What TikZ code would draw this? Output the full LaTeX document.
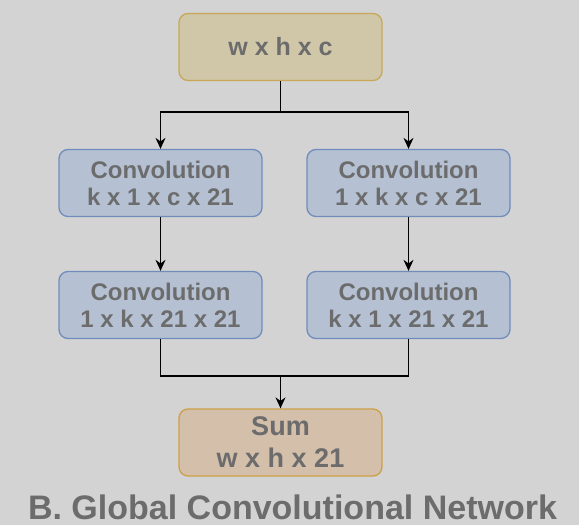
\documentclass[tikz,border=0pt]{standalone}
\usepackage{fontspec}
\setmainfont{Liberation Sans}
\usetikzlibrary{arrows.meta}
\definecolor{bg}{RGB}{211,211,211}
\definecolor{tan}{RGB}{208,198,168}
\definecolor{tanb}{RGB}{200,168,88}
\definecolor{blu}{RGB}{181,193,211}
\definecolor{blub}{RGB}{112,140,188}
\definecolor{sumf}{RGB}{211,191,170}
\definecolor{sumb}{RGB}{205,160,70}
\definecolor{txt}{RGB}{108,108,108}
\tikzset{
  box/.style={rounded corners=9pt, line width=1.3pt, minimum width=203pt, minimum height=67pt,
    align=center, text=txt, font=\fontsize{24}{27}\selectfont\bfseries, inner sep=0pt},
  inbox/.style={box, fill=tan, draw=tanb, font=\fontsize{25}{27}\selectfont\bfseries},
  convbox/.style={box, fill=blu, draw=blub},
  sumbox/.style={box, fill=sumf, draw=sumb, font=\fontsize{27}{32}\selectfont\bfseries},
  conn/.style={line width=1.3pt, black},
  arr/.style={conn, -{Stealth[length=11pt,width=10pt]}}
}
\begin{document}
\begin{tikzpicture}[x=1pt,y=-1pt]
\fill[bg] (0,0) rectangle (579,525);
\useasboundingbox (0,0) rectangle (579,525);
\node[inbox] (in) at (280.5,47) {w x h x c};
\node[convbox] (l1) at (160.5,183) {Convolution\\k x 1 x c x 21};
\node[convbox] (r1) at (408.5,183) {Convolution\\1 x k x c x 21};
\node[convbox] (l2) at (160.5,305) {Convolution\\1 x k x 21 x 21};
\node[convbox] (r2) at (408.5,305) {Convolution\\k x 1 x 21 x 21};
\node[sumbox] (sum) at (280.5,442.5) {Sum\\w x h x 21};
\coordinate (split) at (280.5,112);
\coordinate (join) at (280.5,376);
\draw[conn] (in.south) -- (split);
\draw[arr] (split) -| (l1.north);
\draw[arr] (split) -| (r1.north);
\draw[arr] (l1) -- (l2);
\draw[arr] (r1) -- (r2);
\draw[conn] (l2.south) |- (join) -| (r2.south);
\draw[arr] (join) -- (sum.north);
\node[text=txt, font=\fontsize{34}{36}\selectfont\bfseries, anchor=base] (title) at (292.5,519) {B. Global Convolutional Network};
\end{tikzpicture}
\end{document}
